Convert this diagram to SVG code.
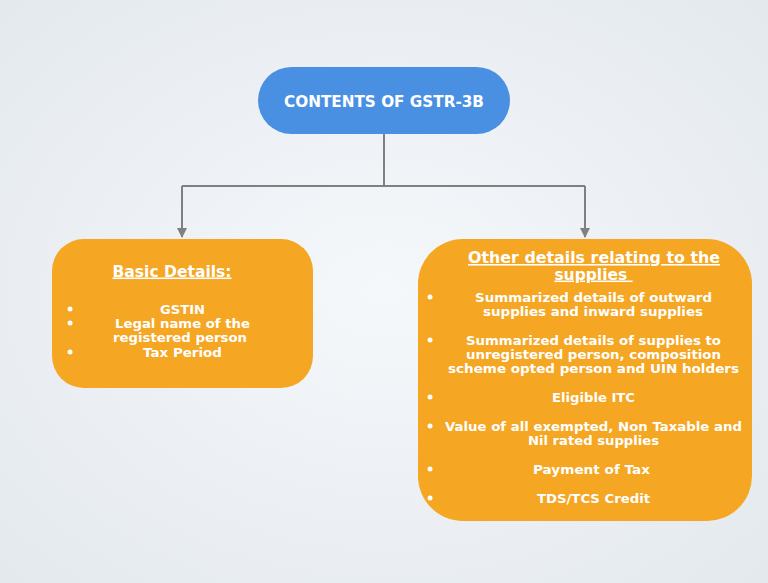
<svg xmlns="http://www.w3.org/2000/svg" width="768" height="583" viewBox="0 0 768 583">
<defs>
<radialGradient id="bg" cx="50%" cy="50%" r="70%">
<stop offset="0" stop-color="#f5f8fb"/>
<stop offset="1" stop-color="#e4e9ee"/>
</radialGradient>
<marker id="arr" viewBox="0 0 10 10" refX="9" refY="5" markerWidth="5" markerHeight="5" orient="auto" markerUnits="strokeWidth">
<path d="M0,0 L10,5 L0,10 Z" fill="#808080"/>
</marker>
<style>
text{font-family:"DejaVu Sans","Liberation Sans",sans-serif;font-weight:bold;fill:#ffffff;text-anchor:middle}
.t{font-size:15px}
.h{font-size:15.5px;text-decoration:underline}
.b{font-size:12.5px}
.dot{fill:#ffffff}
.conn{fill:none;stroke:#808080;stroke-width:2}
</style>
</defs>
<rect width="768" height="583" fill="url(#bg)"/>
<g id="connectors">
<path class="conn" d="M384,134 V186"/>
<path class="conn" d="M182,186 H585"/>
<path class="conn" d="M182,186 V237" marker-end="url(#arr)"/>
<path class="conn" d="M585,186 V237" marker-end="url(#arr)"/>
</g>
<g id="root">
<rect x="258" y="67" width="252" height="67" rx="33.5" fill="#4a90e2"/>
<text class="t" x="384" y="106.5" textLength="200" lengthAdjust="spacingAndGlyphs">CONTENTS OF GSTR-3B</text>
</g>
<g id="basic">
<rect x="52" y="239" width="261" height="149" rx="32" fill="#f5a623"/>
<text class="h" x="172" y="276.5" textLength="119" lengthAdjust="spacingAndGlyphs">Basic Details:</text>
<circle class="dot" cx="70" cy="309" r="2.5"/>
<circle class="dot" cx="70" cy="323" r="2.5"/>
<circle class="dot" cx="70" cy="352" r="2.5"/>
<text class="b" x="182.5" y="313.5" textLength="45" lengthAdjust="spacingAndGlyphs">GSTIN</text>
<text class="b" x="182.5" y="327.5" textLength="135" lengthAdjust="spacingAndGlyphs">Legal name of the</text>
<text class="b" x="180" y="342" textLength="134" lengthAdjust="spacingAndGlyphs">registered person</text>
<text class="b" x="182.5" y="356.5" textLength="79" lengthAdjust="spacingAndGlyphs">Tax Period</text>
</g>
<g id="other">
<rect x="418" y="239" width="334" height="282" rx="45" fill="#f5a623"/>
<text class="h" x="594" y="263" textLength="252" lengthAdjust="spacingAndGlyphs">Other details relating to the</text>
<text class="h" x="593.5" y="279.5" xml:space="preserve">supplies </text>
<circle class="dot" cx="430" cy="297" r="2.5"/>
<circle class="dot" cx="430" cy="340" r="2.5"/>
<circle class="dot" cx="430" cy="397" r="2.5"/>
<circle class="dot" cx="430" cy="426" r="2.5"/>
<circle class="dot" cx="430" cy="469" r="2.5"/>
<circle class="dot" cx="430" cy="498" r="2.5"/>
<text class="b" x="593.5" y="301.5" textLength="237" lengthAdjust="spacingAndGlyphs">Summarized details of outward</text>
<text class="b" x="593" y="315.5" textLength="220" lengthAdjust="spacingAndGlyphs">supplies and inward supplies</text>
<text class="b" x="593.5" y="344.5" textLength="255" lengthAdjust="spacingAndGlyphs">Summarized details of supplies to</text>
<text class="b" x="593.5" y="358.5" textLength="255" lengthAdjust="spacingAndGlyphs">unregistered person, composition</text>
<text class="b" x="593.5" y="373" textLength="291" lengthAdjust="spacingAndGlyphs">scheme opted person and UIN holders</text>
<text class="b" x="593.5" y="401.5" textLength="83" lengthAdjust="spacingAndGlyphs">Eligible ITC</text>
<text class="b" x="593.5" y="430.5" textLength="297" lengthAdjust="spacingAndGlyphs">Value of all exempted, Non Taxable and</text>
<text class="b" x="593.5" y="444.5" textLength="131" lengthAdjust="spacingAndGlyphs">Nil rated supplies</text>
<text class="b" x="591.5" y="473.5" textLength="117" lengthAdjust="spacingAndGlyphs">Payment of Tax</text>
<text class="b" x="593.5" y="502.5" textLength="113" lengthAdjust="spacingAndGlyphs">TDS/TCS Credit</text>
</g>
</svg>
